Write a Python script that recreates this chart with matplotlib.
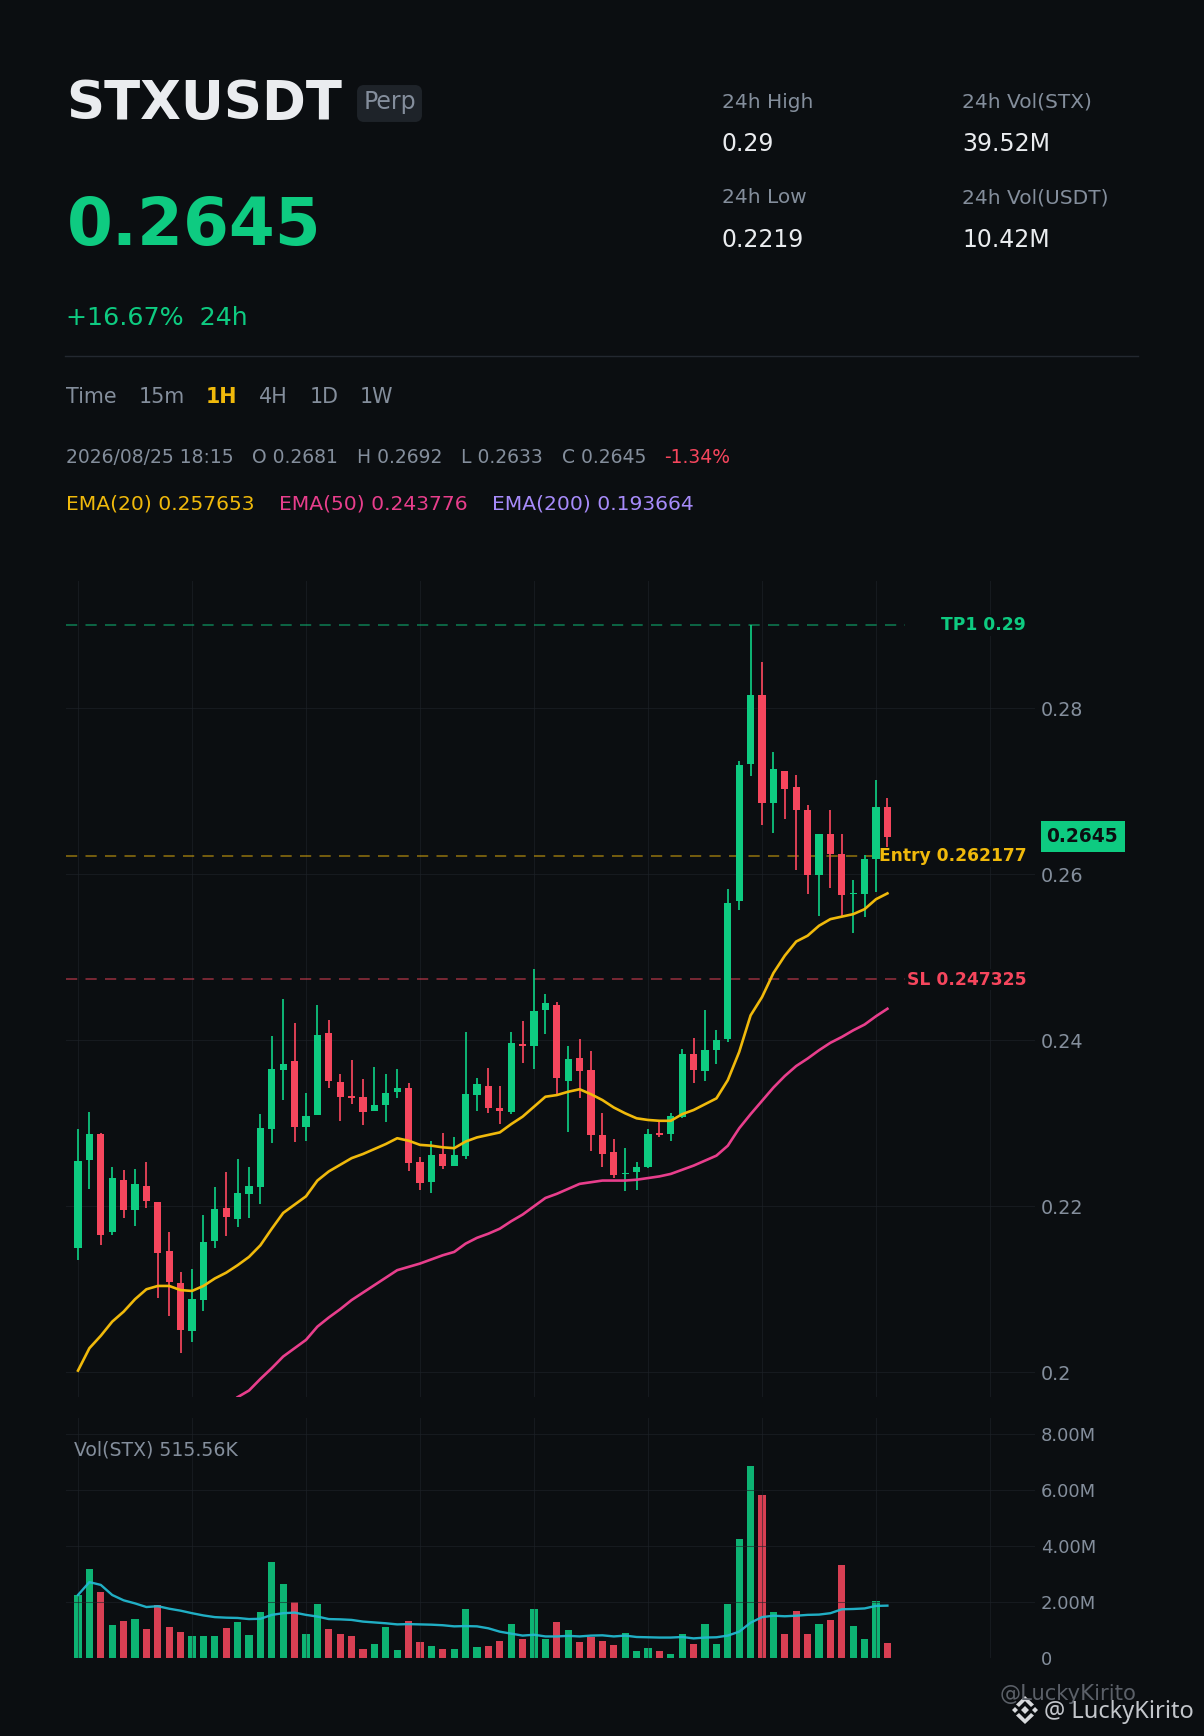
import numpy as np
import matplotlib
matplotlib.use("Agg")
import matplotlib.pyplot as plt
from matplotlib.patches import FancyBboxPatch, Polygon, Rectangle
from matplotlib.ticker import FormatStrFormatter

BG = "#0b0e11"
GREEN = "#0ecb81"
RED = "#f6465d"
GOLD = "#f0b90b"
PINK = "#e83e8c"
PURPLE = "#a78bfa"
GREY = "#848e9c"
WHITE = "#eaecef"
GRID = "#1e2329"

W, H = 1204, 1736

opens = [.2150, .2256, .2287, .2169, .2232, .2196, .2225, .2205, .2146, .2108, .2050, .2087,
         .2158, .2198, .2185, .2215, .2223, .2293, .2364, .2375, .2296, .2310, .2409, .2350,
         .2333, .2332, .2315, .2322, .2338, .2343, .2253, .2229, .2263, .2249, .2261, .2334,
         .2345, .2318, .2314, .2396, .2393, .2437, .2443, .2351, .2379, .2364, .2286, .2265,
         .2239, .2241, .2247, .2288, .2287, .2308, .2384, .2363, .2388, .2402, .2568, .2733,
         .2816, .2686, .2725, .2705, .2678, .2599, .2649, .2625, .2576, .2576, .2618, .2681]
highs = [.2293, .2314, .2288, .2247, .2244, .2245, .2253, .2205, .2169, .2121, .2124, .2190,
         .2223, .2241, .2257, .2247, .2311, .2405, .2450, .2421, .2337, .2443, .2424, .2359,
         .2376, .2353, .2368, .2359, .2365, .2349, .2259, .2279, .2288, .2284, .2410, .2355,
         .2367, .2345, .2410, .2423, .2486, .2456, .2446, .2393, .2402, .2387, .2312, .2281,
         .2270, .2253, .2293, .2302, .2312, .2390, .2403, .2437, .2412, .2582, .2737, .2900,
         .2856, .2747, .2725, .2720, .2684, .2649, .2678, .2649, .2593, .2623, .2714, .2692]
lows = [.2135, .2221, .2153, .2165, .2186, .2176, .2198, .2090, .2068, .2023, .2037, .2074,
        .2150, .2164, .2175, .2186, .2203, .2276, .2328, .2277, .2279, .2310, .2343, .2303,
        .2323, .2298, .2315, .2302, .2331, .2243, .2220, .2216, .2245, .2249, .2257, .2315,
        .2312, .2299, .2311, .2373, .2365, .2408, .2335, .2290, .2331, .2267, .2247, .2234,
        .2218, .2220, .2246, .2284, .2279, .2306, .2349, .2351, .2371, .2398, .2557, .2718,
        .2659, .2650, .2667, .2605, .2576, .2550, .2584, .2550, .2529, .2549, .2579, .2633]
closes = [.2255, .2287, .2165, .2234, .2196, .2227, .2206, .2144, .2109, .2051, .2088, .2157,
          .2197, .2187, .2216, .2225, .2294, .2365, .2371, .2296, .2309, .2406, .2351, .2332,
          .2331, .2314, .2322, .2337, .2343, .2252, .2228, .2262, .2249, .2262, .2335, .2347,
          .2318, .2315, .2397, .2393, .2435, .2445, .2355, .2378, .2363, .2286, .2263, .2238,
          .2240, .2247, .2287, .2286, .2309, .2384, .2364, .2388, .2400, .2565, .2732, .2816,
          .2686, .2727, .2703, .2678, .2599, .2649, .2625, .2575, .2578, .2618, .2681, .2645]

ema20 = [.2002, .2029, .2044, .2061, .2073, .2088, .2100, .2104, .2104, .2099, .2098, .2104,
         .2113, .2120, .2129, .2139, .2153, .2173, .2192, .2202, .2212, .2231, .2242, .2250,
         .2258, .2263, .2269, .2275, .2282, .2279, .2274, .2273, .2271, .2270, .2278, .2283,
         .2286, .2289, .2299, .2308, .2320, .2332, .2334, .2338, .2341, .2335, .2328, .2319,
         .2312, .2306, .2304, .2303, .2303, .2311, .2316, .2323, .2330, .2352, .2386, .2430,
         .2452, .2481, .2502, .2519, .2526, .2538, .2546, .2549, .2552, .2558, .2570, .2577]
# below the visible range before bar 14
ema50 = [np.nan] * 14 + [
    .1970, .1978, .1992, .2005, .2019, .2029, .2039, .2055, .2066, .2076, .2087, .2096,
    .2105, .2114, .2123, .2127, .2131, .2136, .2141, .2145, .2155, .2162, .2167, .2173,
    .2182, .2190, .2200, .2210, .2215, .2221, .2227, .2229, .2231, .2231, .2231, .2232,
    .2234, .2236, .2239, .2244, .2249, .2255, .2261, .2273, .2294, .2311, .2327, .2343,
    .2357, .2369, .2378, .2388, .2397, .2404, .2412, .2419, .2429, .2438]

volumes = [2.25, 3.18, 2.36, 1.18, 1.32, 1.39, 1.04, 1.89, 1.11, .93, .79, .79,
           .79, 1.07, 1.29, .82, 1.64, 3.43, 2.64, 2.00, .86, 1.93, 1.04, .86,
           .79, .32, .50, 1.11, .29, 1.32, .57, .43, .32, .32, 1.75, .39,
           .43, .61, 1.21, .68, 1.75, .68, 1.29, 1.00, .57, .75, .61, .46,
           .89, .25, .36, .25, .14, .86, .50, 1.21, .50, 1.93, 4.25, 6.86,
           5.82, 1.64, .86, 1.68, .86, 1.21, 1.36, 3.32, 1.14, .68, 2.04, .54]
vol_ma = [2.25, 2.71, 2.61, 2.25, 2.06, 1.95, 1.82, 1.85, 1.76, 1.69, 1.60, 1.52,
          1.46, 1.44, 1.43, 1.39, 1.40, 1.54, 1.60, 1.62, 1.54, 1.48, 1.39, 1.38,
          1.36, 1.30, 1.27, 1.24, 1.20, 1.21, 1.20, 1.19, 1.17, 1.13, 1.14, 1.13,
          1.06, .94, .87, .80, .83, .77, .77, .79, .77, .80, .81, .77,
          .80, .75, .74, .73, .73, .75, .70, .73, .74, .80, .94, 1.26,
          1.46, 1.51, 1.49, 1.51, 1.54, 1.55, 1.60, 1.74, 1.75, 1.77, 1.86, 1.87]

levels = [0.29, 0.262177, 0.247325]
level_names = ["TP1 0.29", "Entry 0.262177", "SL 0.247325"]
level_colors = [GREEN, GOLD, RED]
price_ticks = [0.20, 0.22, 0.24, 0.26, 0.28]
vol_ticks = [0, 2, 4, 6, 8]
vol_tick_labels = ["0", "2.00M", "4.00M", "6.00M", "8.00M"]
grid_bars = list(range(0, 81, 10))


def px_axes(left, top, right, bottom):
    return fig.add_axes([left / W, 1 - bottom / H, (right - left) / W, (bottom - top) / H])


fig = plt.figure(figsize=(W / 100, H / 100), dpi=100, facecolor=BG)
ax = px_axes(66, 581, 1035, 1397)
ax_vol = px_axes(66, 1418, 1035, 1658)
x = np.arange(len(closes))
colors = [GREEN if c >= o else RED for o, c in zip(opens, closes)]

for a in (ax, ax_vol):
    a.set_facecolor(BG)
    a.set_xlim(-1.053, 83.947)
    a.set_xticks(grid_bars)
    a.tick_params(axis="x", length=0, labelbottom=False)
    a.tick_params(axis="y", length=0, labelleft=False, labelright=True, labelcolor=GREY,
                  labelsize=13.8, pad=4.3)
    a.yaxis.tick_right()
    a.grid(True, color=GRID, alpha=0.6, lw=0.75)
    for s in a.spines.values():
        s.set_visible(False)

# price panel
ax.set_ylim(0.19702, 0.29534)
ax.set_yticks(price_ticks)
ax.yaxis.set_major_formatter(FormatStrFormatter("%g"))
ax.set_axisbelow(True)
for lvl, c in zip(levels, level_colors):
    ax.hlines(lvl, -1.053, 72.5, color=c, lw=1.3, alpha=0.5, linestyles=(0, (6.2, 4.6)), zorder=1.5)
ax.vlines(x, lows, highs, color=colors, lw=1.25, zorder=3)
ax.bar(x, np.array(closes) - np.array(opens), bottom=opens, width=0.62, color=colors, zorder=3)
ax.plot(x, ema20, color=GOLD, lw=1.9, zorder=4)
ax.plot(x, ema50, color=PINK, lw=1.9, zorder=4)
for lvl, name, c in zip(levels, level_names, level_colors):
    ax.annotate(name, (83.17, lvl), xytext=(0, 1.4), textcoords="offset points", color=c, fontsize=12.3,
                fontweight="bold", ha="right", va="center_baseline", zorder=2,
                bbox=dict(facecolor=BG, edgecolor="none", pad=1.0), annotation_clip=False)

# volume panel
ax_vol.set_ylim(0, 8.57)
ax_vol.set_yticks(vol_ticks)
ax_vol.set_yticklabels(vol_tick_labels, fontsize=13.0)
ax_vol.set_axisbelow(False)
ax_vol.bar(x, volumes, width=0.62, color=colors, alpha=0.88, zorder=1)
ax_vol.plot(x, vol_ma, color="#22b8cf", lw=1.7, alpha=0.95, zorder=3)

# everything around the panels goes on a pixel overlay
ov = fig.add_axes([0, 0, 1, 1], zorder=10)
ov.set_xlim(0, W)
ov.set_ylim(H, 0)
ov.axis("off")


def label(px, py, s, color=GREY, size=14, weight="normal", **kw):
    ov.text(px, py, s, color=color, fontsize=size, fontweight=weight, va="baseline", **kw)


label(66, 119, "STXUSDT", WHITE, 38.1, "bold")
ov.add_patch(FancyBboxPatch((360, 88), 59, 31, boxstyle="round,pad=0,rounding_size=4",
                            fc="#1e2329", ec="#1e2329", lw=4.3))
label(364, 109, "Perp", GREY, 17)
label(67, 245, "0.2645", GREEN, 47.5, "bold")
label(66, 325, "+16.67%  24h", GREEN, 18.2)

label(721.5, 107.7, "24h High", GREY, 14.5)
label(721.5, 151, "0.29", WHITE, 17)
label(721.5, 203.3, "24h Low", GREY, 14.5)
label(721.5, 246.7, "0.2219", WHITE, 17)
label(962, 107.7, "24h Vol(STX)", GREY, 14.5)
label(962, 151, "39.52M", WHITE, 17)
label(962, 203.3, "24h Vol(USDT)", GREY, 14.5)
label(962, 246.7, "10.42M", WHITE, 17)

ov.plot([65, 1138], [356, 356], color="#232830", lw=1)

for px, s, c, w in [(66.5, "Time", GREY, "normal"), (139, "15m", GREY, "normal"), (206, "1H", GOLD, "bold"),
                    (258.5, "4H", GREY, "normal"), (310, "1D", GREY, "normal"), (360, "1W", GREY, "normal")]:
    label(px, 403, s, c, 14.9, w)

for px, s, c in [(66.5, "2026/08/25 18:15", GREY), (252, "O 0.2681", GREY), (357, "H 0.2692", GREY),
                 (461, "L 0.2633", GREY), (562, "C 0.2645", GREY), (664.5, "-1.34%", RED)]:
    label(px, 463, s, c, 13.5)

for px, s, c in [(66.5, "EMA(20) 0.257653", GOLD), (279, "EMA(50) 0.243776", PINK),
                 (492, "EMA(200) 0.193664", PURPLE)]:
    label(px, 510, s, c, 14.55)

# last price tag
ov.add_patch(Rectangle((1041, 821), 84, 30.7, fc=GREEN, ec="none"))
label(1046.5, 841.7, "0.2645", BG, 13.4, "bold")

label(74, 1456, "Vol(STX) 515.56K", GREY, 13.6)

# watermarks and logo
label(1000, 1700, "@LuckyKirito", "#5b6068", 15.2)
label(1043.5, 1718, "@ LuckyKirito", "#c3c6cb", 17, family="Noto Sans")
cx, cy = 1025, 1710
for dx, dy, r in [(0, 0, 4), (-10, 0, 3), (10, 0, 3)]:
    ov.add_patch(Polygon([(cx + dx - r, cy + dy), (cx + dx, cy + dy - r), (cx + dx + r, cy + dy),
                          (cx + dx, cy + dy + r)], fc="#d8dadd", ec="none"))
for sgn in (-1, 1):
    ov.add_patch(Polygon([(cx - 9, cy + sgn * 5.5), (cx, cy + sgn * 14), (cx + 9, cy + sgn * 5.5),
                          (cx + 6, cy + sgn * 3), (cx, cy + sgn * 9), (cx - 6, cy + sgn * 3)],
                         fc="#d8dadd", ec="none"))

fig.savefig("out.png", dpi=100, facecolor=BG)
